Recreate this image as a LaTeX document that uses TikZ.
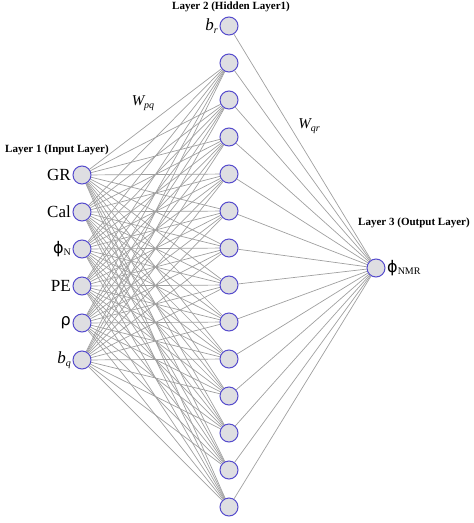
\documentclass[tikz,border=0pt]{standalone}
\usepackage{fontspec}
\setmainfont{Liberation Serif}
\newfontfamily\grk{DejaVu Sans}
\usetikzlibrary{backgrounds}
\definecolor{nblue}{RGB}{85,75,205}
\definecolor{nfill}{RGB}{222,222,226}
\definecolor{lgray}{RGB}{160,160,160}
\newcommand{\sbs}[1]{\raisebox{-2.5pt}{\fontsize{10}{10}\selectfont #1}}
\begin{document}
\begin{tikzpicture}[x=1pt,y=-1pt,
  neuron/.style={circle,draw=nblue,fill=nfill,line width=1pt,minimum size=18pt,inner sep=0pt},
  conn/.style={draw=lgray,line width=0.7pt},
  lbl/.style={font=\fontsize{17}{20}\selectfont,inner sep=1.5pt},
  wlbl/.style={font=\itshape\fontsize{15}{18}\selectfont,inner sep=0pt},
  ttl/.style={font=\bfseries\fontsize{11}{13}\selectfont,inner sep=0pt}]
\useasboundingbox (0,0) rectangle (474,523);
% input layer
\foreach \k/\yy in {1/175,2/212,3/249,4/286,5/323,6/360}
  \node[neuron] (i\k) at (82,\yy) {};
% hidden layer
\foreach \k in {1,...,14}
  \node[neuron] (h\k) at (229,{26+37*(\k-1)}) {};
% output
\node[neuron] (o) at (376,268) {};
% connectors
\begin{scope}[on background layer]
\foreach \a in {1,...,6}
  \foreach \b in {2,...,14}
    \draw[conn] (i\a) -- (h\b);
\foreach \b in {1,...,14}
  \draw[conn] (h\b) -- (o);
\end{scope}
% node labels
\node[lbl,anchor=east] (lgr) at (i1.west) {GR};
\node[lbl,anchor=east] (lcal) at (i2.west) {Cal};
\node[lbl,anchor=east] (lphin) at (i3.west) {{\grk\fontsize{16}{18}\selectfont ϕ}\sbs{N}};
\node[lbl,anchor=east] (lpe) at (i4.west) {PE};
\node[lbl,anchor=east] (lrho) at (i5.west) {{\grk\fontsize{16}{18}\selectfont ρ}};
\node[lbl,anchor=east] (lbq) at (i6.west) {{\itshape b\sbs{q}}};
\node[lbl,anchor=east] (lbr) at (h1.west) {{\itshape b\sbs{r}}};
\node[lbl,anchor=west] (lphinmr) at (o.east) {{\grk\fontsize{16}{18}\selectfont ϕ}\sbs{NMR}};
% weight labels
\node[wlbl] (wpq) at (143,103) {W\sbs{pq}};
\node[wlbl] (wqr) at (309,126) {W\sbs{qr}};
% titles
\node[ttl] (t1) at (57,150) {Layer 1 (Input Layer)};
\node[ttl] (t2) at (231,7) {Layer 2 (Hidden Layer1)};
\node[ttl] (t3) at (414,223) {Layer 3 (Output Layer)};
\end{tikzpicture}
\end{document}
